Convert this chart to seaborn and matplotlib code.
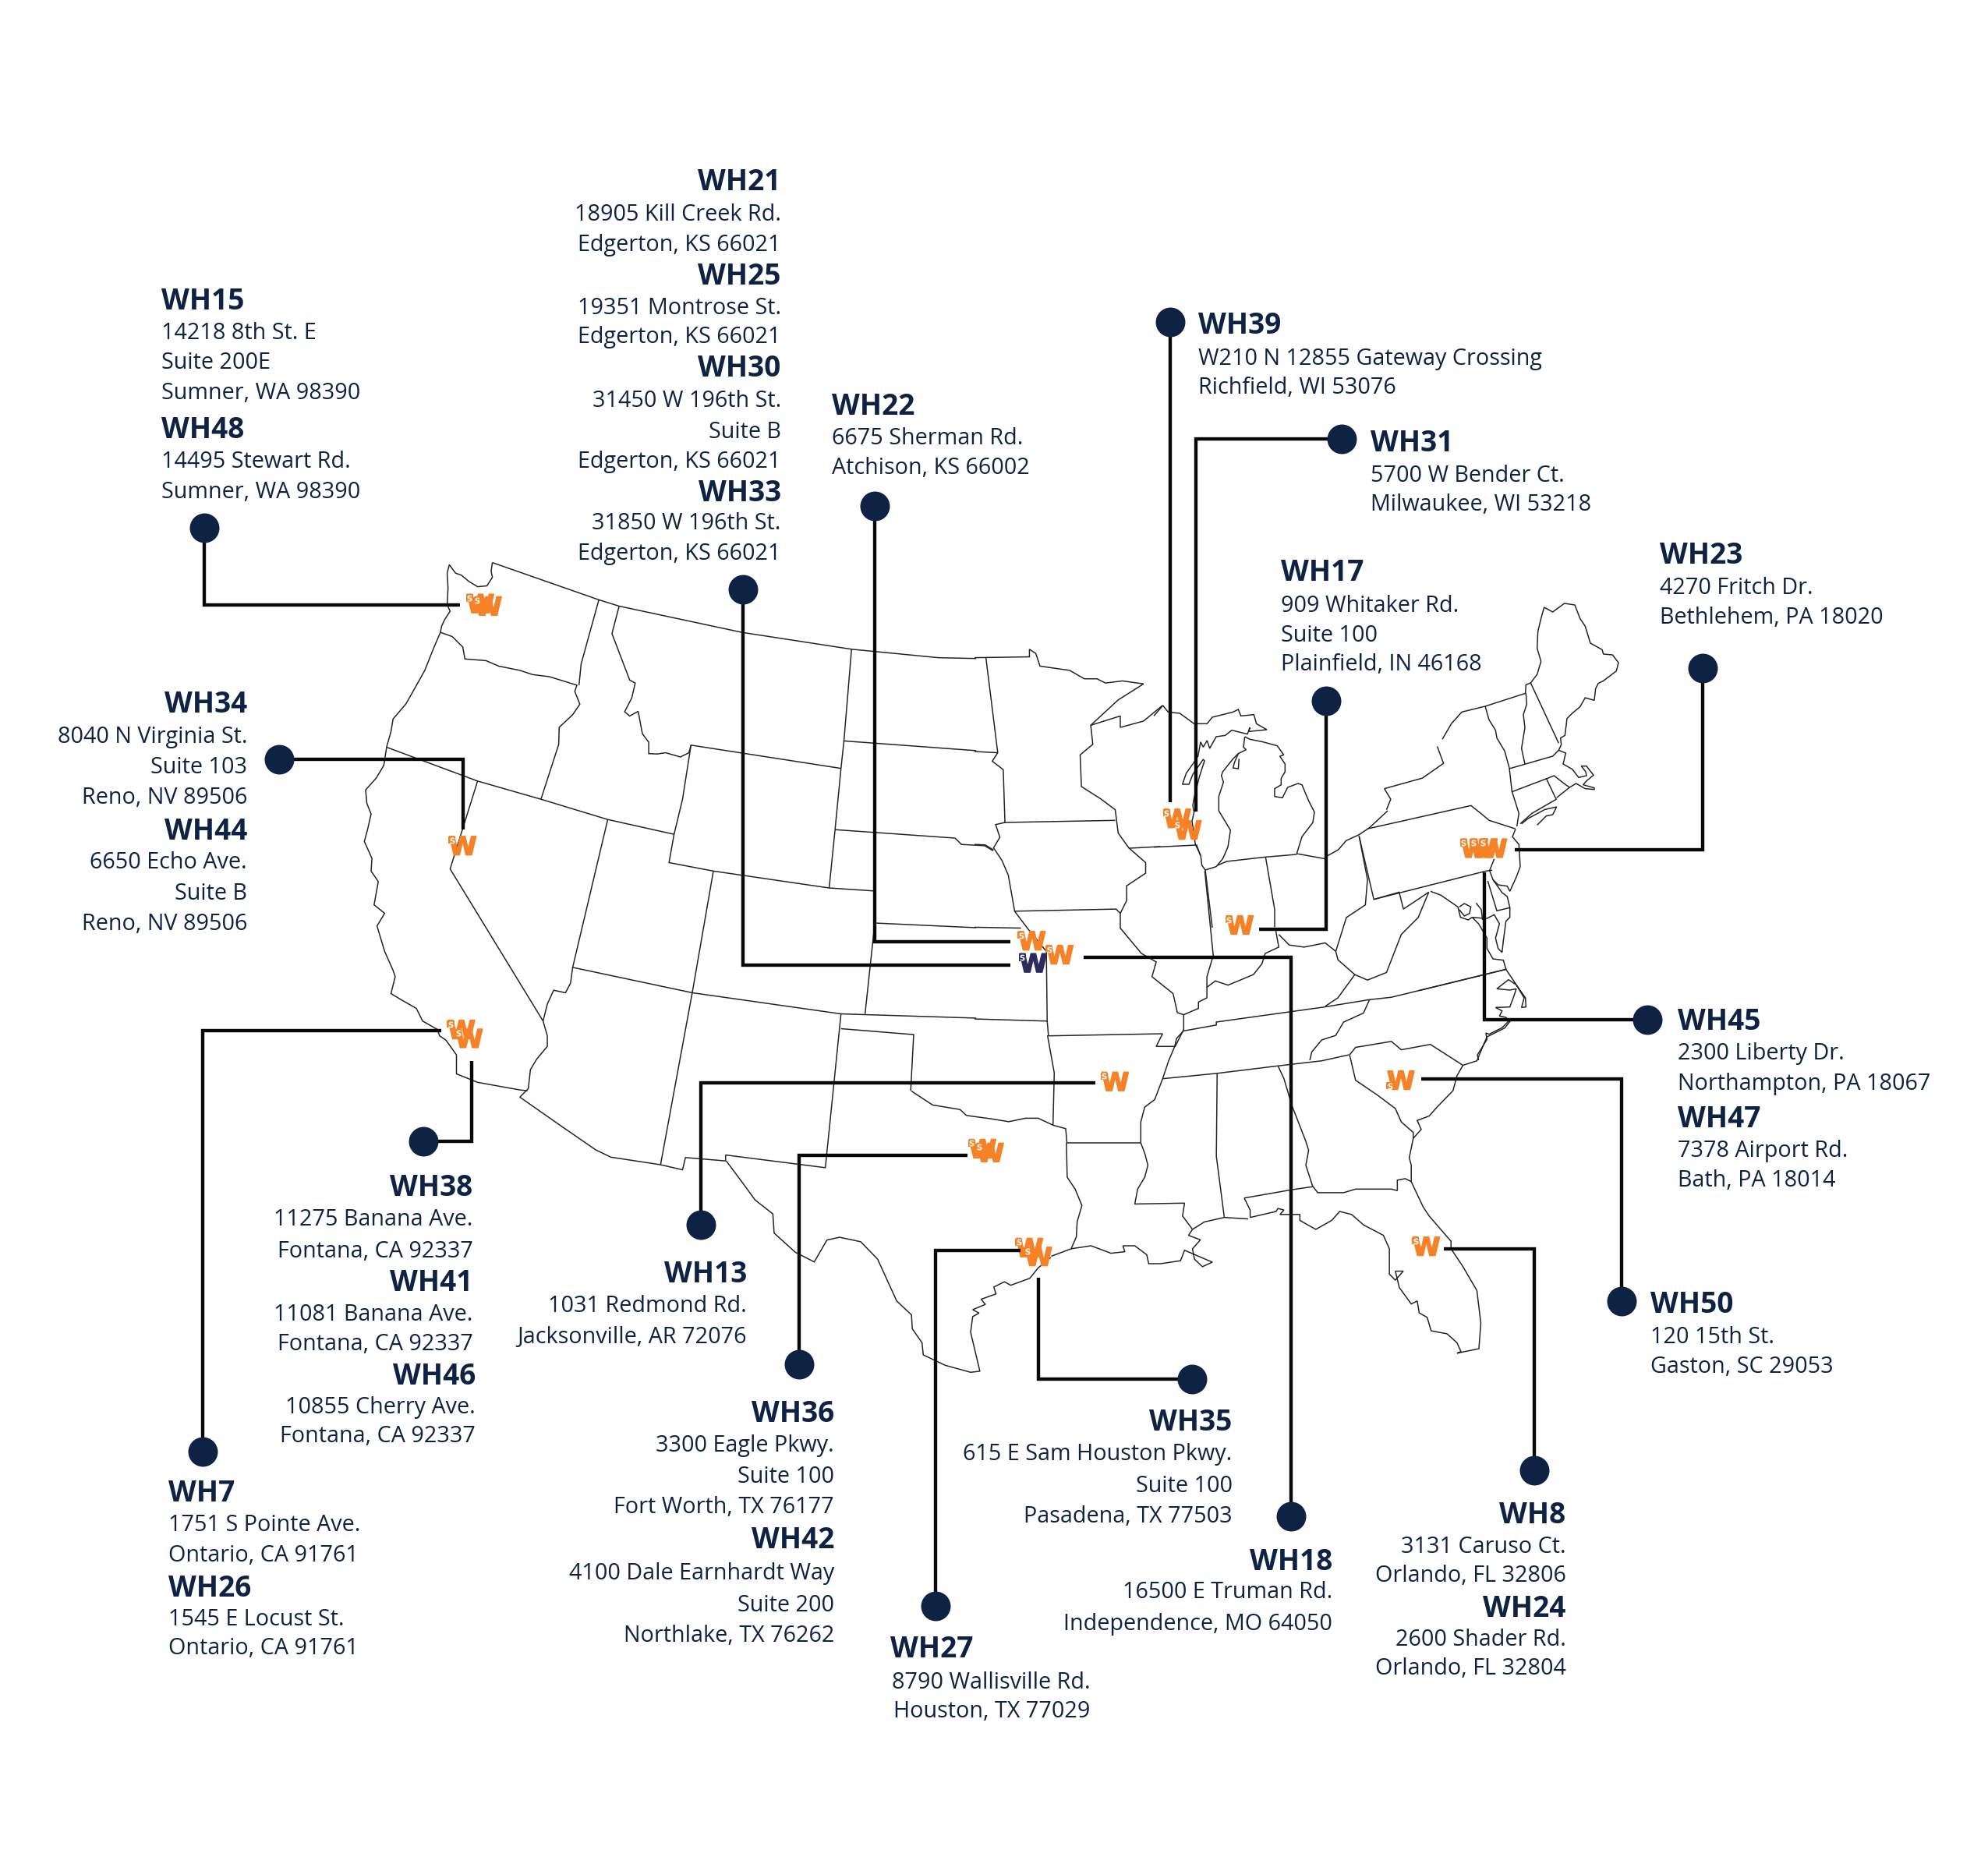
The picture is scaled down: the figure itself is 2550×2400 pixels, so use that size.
import matplotlib
matplotlib.use("Agg")
import matplotlib.pyplot as plt
import pandas as pd
import seaborn as sns

NAVY = "#0E2344"
ORANGE = "#F58226"
INDIGO = "#2B2C5C"
LINE = "#080808"
P = 2550 / 1568

# warehouses: name, address lines
names = ["WH15", "WH48", "WH21", "WH25", "WH30", "WH33", "WH22", "WH39", "WH31", "WH17", "WH23",
         "WH34", "WH44", "WH45", "WH47", "WH38", "WH41", "WH46", "WH50", "WH13", "WH36", "WH42",
         "WH35", "WH18", "WH7", "WH26", "WH8", "WH24", "WH27"]
addresses = [
    ["14218 8th St. E", "Suite 200E", "Sumner, WA 98390"],
    ["14495 Stewart Rd.", "Sumner, WA 98390"],
    ["18905 Kill Creek Rd.", "Edgerton, KS 66021"],
    ["19351 Montrose St.", "Edgerton, KS 66021"],
    ["31450 W 196th St.", "Suite B", "Edgerton, KS 66021"],
    ["31850 W 196th St.", "Edgerton, KS 66021"],
    ["6675 Sherman Rd.", "Atchison, KS 66002"],
    ["W210 N 12855 Gateway Crossing", "Richfield, WI 53076"],
    ["5700 W Bender Ct.", "Milwaukee, WI 53218"],
    ["909 Whitaker Rd.", "Suite 100", "Plainfield, IN 46168"],
    ["4270 Fritch Dr.", "Bethlehem, PA 18020"],
    ["8040 N Virginia St.", "Suite 103", "Reno, NV 89506"],
    ["6650 Echo Ave.", "Suite B", "Reno, NV 89506"],
    ["2300 Liberty Dr.", "Northampton, PA 18067"],
    ["7378 Airport Rd.", "Bath, PA 18014"],
    ["11275 Banana Ave.", "Fontana, CA 92337"],
    ["11081 Banana Ave.", "Fontana, CA 92337"],
    ["10855 Cherry Ave.", "Fontana, CA 92337"],
    ["120 15th St.", "Gaston, SC 29053"],
    ["1031 Redmond Rd.", "Jacksonville, AR 72076"],
    ["3300 Eagle Pkwy.", "Suite 100", "Fort Worth, TX 76177"],
    ["4100 Dale Earnhardt Way", "Suite 200", "Northlake, TX 76262"],
    ["615 E Sam Houston Pkwy.", "Suite 100", "Pasadena, TX 77503"],
    ["16500 E Truman Rd.", "Independence, MO 64050"],
    ["1751 S Pointe Ave.", "Ontario, CA 91761"],
    ["1545 E Locust St.", "Ontario, CA 91761"],
    ["3131 Caruso Ct.", "Orlando, FL 32806"],
    ["2600 Shader Rd.", "Orlando, FL 32804"],
    ["8790 Wallisville Rd.", "Houston, TX 77029"],
]
# text layout: x anchor, alignment, centre y of every line in the block
text_x = [127, 127, 616, 616, 616, 616, 656, 945, 1081, 1010, 1309, 195, 195, 1323, 1323, 373, 373, 375,
          1302, 589, 658, 658, 972, 1051, 133, 133, 1235, 1235, 702]
text_ha = ["left", "left", "right", "right", "right", "right", "left", "left", "left", "left", "left", "right", "right",
           "left", "left", "right", "right", "right", "left", "right", "right", "right", "right", "right",
           "left", "left", "right", "right", "left"]
text_y = [[236, 261, 284, 308], [337, 362, 386], [142, 167, 191], [216, 241, 264], [289, 314, 339, 362],
          [387, 411, 435], [319, 344, 367], [255, 281, 304], [348, 373, 396], [450, 476, 499, 522],
          [436, 462, 485], [554, 579, 603, 627], [654, 678, 703, 727], [804, 829, 853], [881, 906, 929],
          [935, 960, 985], [1010, 1035, 1058], [1084, 1108, 1131], [1027, 1053, 1076], [1003, 1028, 1053],
          [1113, 1138, 1163, 1187], [1213, 1239, 1264, 1288], [1120, 1145, 1170, 1194], [1230, 1254, 1279],
          [1176, 1201, 1225], [1251, 1275, 1298], [1193, 1218, 1241], [1267, 1291, 1314], [1299, 1325, 1348]]

# leader lines, first point is the dot
leaders = [
    [(161, 416), (161, 477), (363, 477)],
    [(220, 599), (365, 599), (365, 654)],
    [(160, 1145), (160, 813), (348, 813)],
    [(334, 900), (372, 900), (372, 837)],
    [(553, 966), (553, 854), (864, 854)],
    [(630, 1076), (630, 911), (763, 911)],
    [(738, 1267), (738, 986), (805, 986)],
    [(940, 1088), (819, 1088), (819, 1008)],
    [(586, 465), (586, 761), (797, 761)],
    [(690, 399), (690, 743), (797, 743)],
    [(1018, 1196), (1018, 755), (855, 755)],
    [(923, 254), (923, 633)],
    [(1058, 346), (943, 346), (943, 640)],
    [(1046, 553), (1046, 733), (993, 733)],
    [(1343, 527), (1343, 670), (1195, 670)],
    [(1299, 804), (1171, 804), (1171, 688)],
    [(1279, 1026), (1279, 851), (1121, 851)],
    [(1210, 1160), (1210, 985), (1139, 985)],
]

# W markers
icon_x = [379, 385, 365, 364, 370, 775, 781, 812, 819, 814, 836, 879.6, 1105, 1125, 1163, 1170.5, 1178, 978, 928.6, 937, 815]
icon_y = [476, 478, 667, 812, 819, 906, 909, 984, 991, 742, 753, 853, 852, 983, 669, 669, 669, 729.6, 645.5, 654.6, 759.5]
icon_kind = ["orange"] * 20 + ["indigo"]

west = [
    [(335, 40), (332, 60), (335, 75), (322, 95), (300, 97), (280, 85), (262, 70), (248, 65), (233, 45), (228, 65), (230, 100), (228, 140), (235, 155), (222, 175), (215, 190), (212, 205),
     (195, 245), (175, 295), (150, 340), (130, 375), (100, 410), (95, 440), (85, 475), (78, 520), (60, 550), (35, 578), (38, 610), (48, 635), (40, 670), (32, 700), (50, 740), (48, 770), (65, 795), (55, 850), (80, 870), (62, 900), (80, 960), (100, 1005), (105, 1020), (95, 1060), (120, 1075), (155, 1095), (170, 1125), (205, 1145), (210, 1160), (225, 1170), (250, 1205), (250, 1250), (300, 1270), (400, 1288), (418, 1290)],
    [(455, 1125), (465, 1160), (465, 1185), (440, 1215), (425, 1240), (420, 1285), (400, 1305), (500, 1375), (580, 1430), (615, 1447), (733, 1465), (785, 1477), (792, 1448), (887, 1456), (887, 1442), (1123, 1472), (1160, 1108)],
    [(300, 557), (235, 765), (455, 1125), (465, 1085), (480, 1052), (508, 1058), (520, 1035), (525, 998), (608, 648)],
    [(85, 477), (300, 557), (450, 600), (608, 648), (765, 683)],
    [(805, 472), (785, 600), (765, 683), (753, 750), (858, 770), (1132, 810), (1238, 817), (1240, 893), (1217, 1108)],
    [(858, 770), (808, 1058), (733, 1465)],
    [(525, 998), (808, 1058), (1160, 1108), (1480, 1118)],
    [(212, 205), (240, 215), (265, 240), (270, 268), (320, 272), (350, 285), (400, 295), (430, 305), (470, 310), (535, 330), (530, 345), (542, 375), (525, 400), (493, 430), (492, 470), (450, 600)],
    [(587, 128), (545, 280), (540, 330)],
    [(335, 40), (587, 128), (635, 143), (925, 205), (1185, 245), (1390, 265), (1480, 267)],
    [(635, 143), (618, 208), (660, 318), (673, 325), (665, 360), (648, 393), (660, 403), (680, 392), (690, 445), (705, 465), (705, 492), (725, 493), (745, 490), (780, 500), (800, 490), (805, 472), (1160, 527)],
    [(1185, 245), (1167, 462), (1160, 527), (1146, 672), (1132, 810)],
    [(1167, 462), (1480, 485)],
    [(1146, 672), (1430, 692), (1445, 707), (1500, 710), (1520, 722)],
    [(1240, 893), (1480, 904)],
    [(1160, 1143), (1332, 1157), (1325, 1290)],
]
texas = [
    [(612, 648), (650, 710), (680, 760), (722, 800), (725, 855), (775, 910), (820, 938), (850, 875), (880, 867), (930, 880), (970, 930), (1000, 1010), (1015, 1050), (1050, 1090), (1052, 1130), (1075, 1170), (1078, 1205), (1130, 1235), (1190, 1255), (1212, 1252), (1190, 1140), (1195, 1095), (1210, 1085), (1195, 1075), (1225, 1060), (1215, 1045), (1250, 1030), (1245, 1010), (1270, 995), (1285, 1005), (1330, 985), (1350, 955), (1380, 925)],
    [(1418, 597), (1415, 555), (1385, 545), (1350, 525), (1320, 525), (1280, 535), (1240, 527), (1180, 517), (1165, 500), (1100, 487), (1050, 447)],
    [(1372, 287), (1388, 395), (1385, 545)],
]
south = [
    [(427, 320), (410, 345), (405, 373), (390, 420), (375, 480), (355, 550), (330, 575), (320, 625), (320, 695), (330, 730), (338, 770), (330, 810), (312, 850), (305, 900), (430, 897), (425, 940), (450, 985), (480, 960), (530, 945), (590, 950)],
    [(145, 1050), (195, 1040), (245, 1065), (280, 1060), (275, 1040), (305, 1040), (335, 1070), (340, 1100), (370, 1100), (420, 1090), (430, 1055), (500, 1095), (475, 1110), (455, 1085), (450, 1050), (470, 1020), (440, 1005), (450, 985)],
    [(133, 695), (135, 810), (155, 850), (172, 905), (160, 960), (158, 1010), (145, 1050), (95, 1075)],
    [(133, 695), (322, 695)],
    [(512, 462), (510, 740), (530, 945)],
    [(375, 480), (512, 462), (665, 437), (775, 420), (843, 400)],
    [(427, 320), (510, 300), (510, 290), (780, 240), (895, 215), (950, 207), (1240, 113)],
    [(665, 437), (680, 480), (700, 570), (735, 690), (742, 720), (735, 770), (752, 840), (765, 862), (830, 862), (860, 850), (950, 850), (965, 855), (965, 820), (985, 815), (1000, 825)],
    [(580, 880), (700, 852), (752, 842)],
    [(580, 880), (595, 920), (595, 945), (660, 925), (665, 915), (680, 920), (670, 935), (720, 935), (720, 955), (760, 985), (800, 955), (820, 925), (850, 935), (880, 970), (930, 1005), (945, 1050), (945, 1135), (960, 1155), (980, 1125), (960, 1125), (970, 1180), (1000, 1235), (1015, 1225), (1020, 1265), (1040, 1280), (1050, 1325), (1090, 1335), (1115, 1365), (1125, 1395), (1115, 1400), (1170, 1385), (1175, 1300), (1165, 1190), (1130, 1110), (1100, 1050), (1100, 1025), (1045, 940), (1030, 910), (1000, 825), (1000, 770), (995, 745), (1005, 680), (1005, 660), (975, 625), (960, 580), (915, 535), (860, 485), (845, 400), (860, 375), (950, 355), (975, 383), (1048, 365), (1130, 435), (1165, 420), (1190, 340), (1235, 310), (1250, 285)],
    [(1005, 680), (1025, 650), (1015, 620), (1045, 605), (1065, 575), (1105, 520), (1115, 470), (1130, 435)],
    [(745, 418), (750, 390), (775, 350), (810, 335), (830, 290), (880, 260), (895, 215)],
]
east = [
    [(0, 265), (130, 263), (130, 245), (145, 255), (155, 285), (225, 295), (260, 315), (290, 315), (310, 325), (350, 320), (400, 327), (340, 365), (275, 425), (280, 470), (250, 495), (253, 570), (300, 600), (333, 625), (340, 680), (365, 715), (405, 750), (405, 775), (360, 805), (360, 840), (345, 870), (345, 905), (395, 965), (430, 985), (420, 1020), (470, 1060), (480, 1105), (495, 1110), (495, 1145), (475, 1185), (430, 1185), (445, 1155), (175, 1160)],
    [(27, 265), (55, 490), (42, 510), (68, 530), (72, 655), (50, 660), (60, 690), (45, 715), (65, 745), (80, 780), (95, 865), (125, 905), (170, 960), (172, 1125), (175, 1160)],
    [(0, 487), (55, 490)],
    [(0, 707), (25, 708), (45, 720)],
    [(0, 903), (110, 905)],
    [(0, 1120), (172, 1125)],
    [(70, 655), (333, 650)],
    [(95, 865), (335, 860), (345, 870)],
    [(365, 716), (440, 712)],
    [(545, 770), (565, 970), (550, 1020), (550, 1070), (530, 1080), (530, 1095), (495, 1110)],
    [(275, 425), (345, 403), (345, 430), (400, 415), (445, 378)],
    [(975, 625), (985, 600), (970, 575), (1060, 550), (1110, 515), (1095, 475)],
    [(712, 905), (720, 950), (688, 965), (680, 990), (660, 1015), (600, 1040), (570, 1030), (550, 1045)],
    [(720, 920), (745, 945), (780, 950), (830, 940), (855, 960), (860, 980), (900, 1015), (930, 1028), (975, 1010), (1010, 920), (1050, 880), (1075, 820)],
    [(910, 687), (930, 790), (925, 850), (880, 880), (855, 960)],
    [(900, 1015), (860, 1070), (830, 1090)],
    [(945, 837), (1005, 820), (1015, 860), (1075, 820)],
    [(930, 670), (1175, 615), (1200, 635), (1218, 650), (1280, 670)],
    [(910, 687), (945, 837), (1210, 770), (1225, 768)],
]
lakes = [
    [(0, 85), (35, 45), (55, 70), (100, 75), (155, 115), (205, 115), (225, 90), (305, 70), (325, 60), (335, 85), (385, 80), (395, 115), (435, 138), (365, 145), (370, 130), (360, 155), (300, 140), (275, 160), (240, 165), (215, 210), (205, 180), (190, 205), (180, 185), (170, 240), (150, 270), (125, 305), (110, 348), (135, 348), (150, 310), (190, 252), (195, 258), (175, 320), (155, 400), (150, 430), (155, 455), (147, 490), (160, 580), (180, 620), (185, 660), (198, 678)],
    [(350, 165), (345, 205), (355, 215), (325, 230), (305, 250), (265, 300), (260, 315), (268, 340), (250, 395), (250, 450), (295, 525), (285, 590), (265, 635), (240, 665), (198, 678)],
    [(350, 165), (370, 175), (420, 185), (475, 200), (500, 235), (485, 240), (505, 270), (505, 300), (490, 325), (490, 350), (465, 365), (465, 395), (495, 400), (515, 360), (555, 345), (570, 350), (595, 410), (618, 455), (612, 495), (570, 550), (550, 615), (660, 635)],
    [(325, 230), (310, 265), (305, 285), (325, 288), (328, 250)],
    [(245, 660), (280, 645), (430, 628), (550, 618)],
    [(430, 628), (465, 830), (465, 898)],
    [(0, 590), (165, 582), (178, 620)],
    [(198, 678), (225, 900)],
    [(665, 625), (710, 600), (740, 565), (790, 542), (830, 515), (900, 450)],
]
newengland = [
    [(0, 565), (35, 505), (75, 460), (165, 438), (320, 388), (322, 355), (340, 348), (365, 315), (380, 265), (365, 215), (368, 150), (380, 100), (392, 57), (425, 75), (470, 42), (510, 48), (530, 100), (550, 130), (570, 195), (615, 220), (620, 237), (655, 240), (678, 270), (670, 302), (620, 340), (600, 350), (590, 370), (585, 415), (550, 405), (530, 440), (500, 465), (480, 485), (472, 550), (455, 560), (458, 585), (448, 607), (475, 618), (465, 660), (500, 680), (525, 712), (555, 705), (552, 690), (535, 668), (555, 668), (582, 703), (555, 725), (542, 740), (585, 752), (585, 758), (550, 755), (515, 735), (490, 750), (440, 790)],
    [(340, 348), (448, 580)],
    [(322, 388), (325, 430), (312, 470), (318, 520), (305, 600), (318, 660)],
    [(165, 438), (180, 490), (205, 530), (210, 560), (240, 610), (258, 675), (268, 765), (295, 850), (287, 900)],
    [(258, 678), (425, 630), (448, 607)],
    [(268, 767), (405, 715), (430, 705), (475, 740), (490, 750)],
    [(400, 715), (438, 795)],
    [(300, 890), (345, 850), (440, 795)],
    [(305, 890), (330, 870), (395, 835), (440, 825), (425, 855), (400, 860), (365, 895)],
]
chesapeake = [
    [(372, 10), (360, 40), (385, 70), (390, 155), (375, 195), (350, 250), (340, 230), (305, 225), (285, 205), (272, 170), (290, 125)],
    [(265, 210), (300, 325), (350, 313), (340, 270), (320, 255), (285, 205)],
    [(350, 313), (350, 350), (335, 365), (325, 440), (320, 485), (305, 470), (295, 430), (310, 375), (290, 340), (260, 355), (205, 350), (230, 375), (262, 430), (262, 470), (285, 510), (325, 515), (335, 550), (375, 610), (410, 660), (412, 695), (395, 697), (405, 660), (375, 610), (345, 590), (300, 625), (350, 630), (375, 625), (365, 655), (350, 695), (295, 697), (320, 710), (310, 730), (335, 735), (345, 750), (320, 775), (270, 800), (258, 795), (262, 820), (225, 880), (230, 900)],
    [(45, 250), (85, 265), (150, 310), (160, 350), (190, 360), (205, 350)],
    [(155, 310), (175, 297), (200, 310), (195, 335), (175, 345), (155, 320)],
    [(220, 295), (240, 320), (245, 360)],
    [(0, 632), (335, 550)],
]
crops = [(west, 450, 700, 1.845, 1.845), (texas, 600, 1200, 1.845, 2.24),
         (south, 1300, 1200, 1.96, 2.613), (east, 1250, 700, 1.845, 1.845),
         (lakes, 1480, 890, 3, 3), (newengland, 1850, 760, 3, 3), (chesapeake, 1820, 1060, 3, 3)]

rows = []
seg = 0
for group, ox, oy, kx, ky in crops:
    for line in group:
        for px, py in line:
            rows.append({"seg": seg, "x": ox + px / kx, "y": oy + py / ky})
        seg += 1
df_map = pd.DataFrame(rows)

rows = []
for i, line in enumerate(leaders):
    for px, py in line:
        rows.append({"seg": i, "x": px * P, "y": py * P})
df_lead = pd.DataFrame(rows)
df_dots = df_lead.groupby("seg", as_index=False).first()

df_icons = pd.DataFrame({"x": icon_x, "y": icon_y, "kind": icon_kind})
df_icons["x"] *= P
df_icons["y"] *= P
df_icons["tag_x"] = df_icons["x"] - 14
df_icons["tag_y"] = df_icons["y"] - 7
df_icons.loc[12, "tag_y"] = df_icons.loc[12, "y"] + 7  # the Gaston logo has its tag low
palette = {"orange": ORANGE, "indigo": INDIGO}

sns.set_theme(style="white")
plt.rcParams["font.family"] = ["Open Sans", "DejaVu Sans"]
plt.rcParams["lines.solid_capstyle"] = "butt"
plt.rcParams["lines.solid_joinstyle"] = "miter"

fig = plt.figure(figsize=(8.5, 8), dpi=300)
ax = fig.add_axes([0, 0, 1, 1])

sns.lineplot(data=df_map, x="x", y="y", units="seg", estimator=None, sort=False,
             color="#222222", linewidth=0.36, legend=False, ax=ax)

# W logos are drawn as glyph markers with a little S tag
sns.scatterplot(data=df_icons, x="x", y="y", hue="kind", palette=palette, marker=r"$\mathbf{W}$", s=66,
                edgecolor="face", linewidth=0.4, legend=False, ax=ax, zorder=3)
sns.scatterplot(data=df_icons, x="tag_x", y="tag_y", hue="kind", palette=palette, marker="s", s=5,
                linewidth=0, legend=False, ax=ax, zorder=4)
sns.scatterplot(data=df_icons, x="tag_x", y="tag_y", color="white", marker=r"$\mathbf{S}$", s=3.5,
                edgecolor="face", linewidth=0, legend=False, ax=ax, zorder=4.5)

sns.lineplot(data=df_lead, x="x", y="y", units="seg", estimator=None, sort=False,
             color=LINE, linewidth=1.05, legend=False, ax=ax, zorder=5)
sns.scatterplot(data=df_dots, x="x", y="y", s=83, color=NAVY, linewidth=0, legend=False, ax=ax, zorder=6)

for name, lines, x, ha, ys in zip(names, addresses, text_x, text_ha, text_y):
    ax.text(x * P, ys[0] * P + 13.5, name, color=NAVY, fontsize=8.9, fontweight="bold", ha=ha, va="baseline")
    # the Houston address block is right aligned under a left aligned name
    addr_x, addr_ha = (860, "right") if name == "WH27" else (x, ha)
    for line, y in zip(lines, ys[1:]):
        ax.text(addr_x * P, y * P + 11, line, color=NAVY, fontsize=6.9, ha=addr_ha, va="baseline")

ax.set_xlim(0, 2550)
ax.set_ylim(2400, 0)
ax.axis("off")

fig.savefig("out.png", dpi=300, facecolor="white")
